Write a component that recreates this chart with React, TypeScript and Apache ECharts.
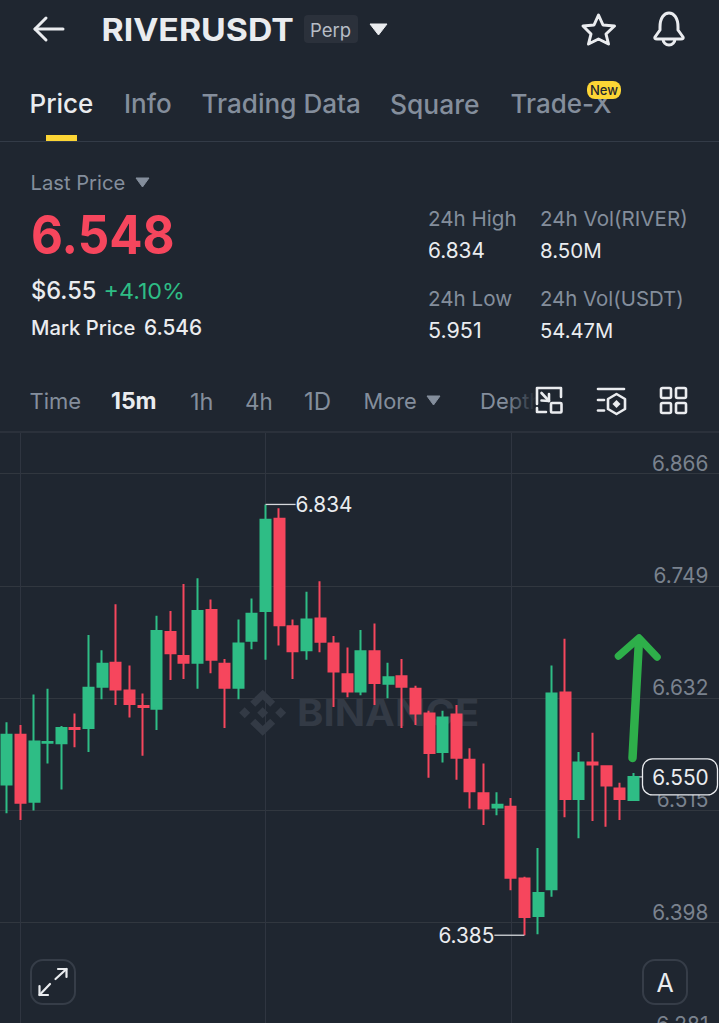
import React, { useEffect, useRef } from "react";
import * as echarts from "echarts";

const opens = [6.542,6.594,6.524,6.5855,6.585,6.601,6.601,6.644,6.669,6.640,6.624,6.621,6.701,6.676,6.669,6.724,6.668,6.643,6.692,6.723,6.819,6.707,6.682,6.715,6.689,6.657,6.639,6.681,6.647,6.655,6.642,6.616,6.576,6.615,6.568,6.533,6.518,6.519,6.444,6.405,6.433,6.638,6.527,6.565,6.561,6.538,6.526];
const closes = [6.594,6.523,6.587,6.5865,6.601,6.600,6.643,6.668,6.641,6.626,6.623,6.702,6.679,6.669,6.723,6.672,6.643,6.689,6.720,6.818,6.708,6.681,6.714,6.691,6.660,6.639,6.681,6.648,6.654,6.644,6.616,6.575,6.612,6.570,6.535,6.517,6.521,6.445,6.404,6.429,6.637,6.527,6.565,6.563,6.541,6.527,6.550];
const lows = [6.512,6.505,6.515,6.564,6.537,6.581,6.576,6.631,6.625,6.612,6.572,6.599,6.651,6.652,6.642,6.658,6.601,6.631,6.683,6.672,6.687,6.652,6.672,6.680,6.623,6.633,6.635,6.625,6.632,6.601,6.604,6.549,6.565,6.547,6.517,6.500,6.510,6.432,6.385,6.386,6.425,6.508,6.486,6.504,6.498,6.505,6.525];
const highs = [6.607,6.604,6.636,6.642,6.603,6.616,6.698,6.682,6.730,6.666,6.637,6.718,6.723,6.751,6.757,6.735,6.673,6.714,6.736,6.834,6.830,6.714,6.743,6.754,6.697,6.685,6.703,6.710,6.669,6.673,6.645,6.619,6.619,6.625,6.580,6.564,6.534,6.528,6.446,6.476,6.666,6.694,6.576,6.596,6.562,6.544,6.554];
const extremeIndex = [19, 38];
const extremeValue = [6.834, 6.385];
const lastPrice = 6.55;
const tabs = ["Price", "Info", "Trading Data", "Square", "Trade-X"];
const intervals = ["Time", "15m", "1h", "4h", "1D", "More"];

const BG = "#1F2630";
const WHITE = "#EAECEF";
const GREY = "#848E9C";
const RED = "#F6465D";
const GREEN = "#2EBD85";
const YELLOW = "#FCD535";
const LINE = "#2F3540";
const FONT = "Inter";

const SPACING = 13.67;
const SLOTS = 53;
const categories = Array.from({ length: SLOTS }, (_, i) => String(i));

const txt = (text: string, x: number, y: number, size: number, fill: string, weight: any = 400, align = "left", z = 50, scaleX = 1) => ({
  type: "text", x, y, z, scaleX, silent: true,
  style: { text, fill, fontFamily: FONT, fontSize: size, fontWeight: weight, textAlign: align, textVerticalAlign: "middle" },
});
const poly = (points: number[][], stroke: string, lineWidth: number, z = 50) => ({
  type: "polyline", z, silent: true, shape: { points },
  style: { stroke, lineWidth, fill: "none", lineCap: "round", lineJoin: "round" },
});
const tri = (points: number[][], fill: string, z = 50) => ({
  type: "polygon", z, silent: true, shape: { points }, style: { fill, lineJoin: "round", stroke: fill, lineWidth: 1 },
});
const box = (x: number, y: number, width: number, height: number, r: number, style: any, z = 50) => ({
  type: "rect", z, silent: true, shape: { x, y, width, height, r }, style,
});

export default function App() {
  const ref = useRef<HTMLDivElement>(null);
  useEffect(() => {
    document.body.style.margin = "0";
    document.body.style.background = BG;
    echarts.graphic.registerShape("bell", echarts.graphic.extendPath(
      "M660 27C660 18 664 13 669 13C674 13 678 18 678 27L678 30L683 37Q684 39 681 39L657 39Q654 39 655 37L660 30ZM663 39A6 6 0 0 0 675 39", {}));
    const chart = echarts.init(ref.current!, null, { renderer: "svg" });
    const wm = "#333A45";
    const cx = 262.7, cy = 712.7;
    const chevron = (s: number) => [[cx, cy - s * 23], [cx + 12.5, cy - s * 11], [cx + 7.5, cy - s * 6], [cx, cy - s * 13.2], [cx - 7.5, cy - s * 6], [cx - 12.5, cy - s * 11]];
    const diamond = (x: number, r: number) => [[x, cy - r], [x + r, cy], [x, cy + r], [x - r, cy]];
    const graphics: any[] = [
      // watermark
      { type: "polygon", z: 1, silent: true, shape: { points: chevron(1) }, style: { fill: wm } },
      { type: "polygon", z: 1, silent: true, shape: { points: chevron(-1) }, style: { fill: wm } },
      { type: "polygon", z: 1, silent: true, shape: { points: diamond(cx, 5.5) }, style: { fill: wm } },
      { type: "polygon", z: 1, silent: true, shape: { points: diamond(cx - 18, 5.5) }, style: { fill: wm } },
      { type: "polygon", z: 1, silent: true, shape: { points: diamond(cx + 18, 5.5) }, style: { fill: wm } },
      txt("BINANCE", 297, 713, 37, wm, 700, "left", 1, 1.08),

      // header
      poly([[35, 29], [63, 29]], WHITE, 3),
      poly([[46, 18], [35, 29], [46, 40]], WHITE, 3),
      txt("RIVERUSDT", 101.5, 30, 31, WHITE, 700, "left", 50, 1.09),
      box(304, 15, 54, 28, 4, { fill: "#2B313B" }),
      txt("Perp", 310, 29.5, 18.5, "#B7BDC6"),
      tri([[370, 24], [387, 24], [378.5, 35]], WHITE),
      { type: "polygon", z: 50, silent: true,
        shape: { points: [[598.5, 15], [603, 25], [614.5, 26], [606, 34], [608.5, 44], [598.5, 39], [588.5, 44], [591, 34], [583, 26], [594, 25]] },
        style: { stroke: WHITE, lineWidth: 3, fill: "none", lineJoin: "round" } },
      { type: "bell", z: 50, silent: true, style: { stroke: WHITE, lineWidth: 3, fill: "none", lineJoin: "round" } },

      // tabs
      txt(tabs[0], 29.5, 103.5, 26, WHITE, 500),
      txt(tabs[1], 124, 103.5, 26, GREY, 500),
      txt(tabs[2], 201.5, 103.5, 26.1, GREY, 500),
      txt(tabs[3], 390, 103.5, 26.4, GREY, 500),
      txt(tabs[4], 510.5, 103.5, 26, GREY, 500),
      box(46, 135, 31, 6, 0, { fill: YELLOW }),
      box(0, 141, 719, 1, 0, { fill: "#333B47" }),
      box(587, 81, 34, 18, 8, { fill: YELLOW }),
      txt("New", 604, 90, 13, "#1F2630", 500, "center", 51),

      // stats
      txt("Last Price", 30.5, 182, 20.2, GREY),
      tri([[136, 178], [149, 178], [142.5, 187]], GREY),
      txt("6.548", 31, 234.5, 53, RED, 700, "left", 50, 0.93),
      txt("$6.55", 31, 290, 23.6, WHITE, 500),
      txt("+4.10%", 103.5, 290.5, 22, GREEN, 400, "left", 50, 1.06),
      txt("Mark Price", 31, 327.5, 20.2, WHITE, 500),
      txt("6.546", 144, 327.5, 20.8, WHITE, 500),
      txt("24h High", 428, 218, 20.6, GREY),
      txt("6.834", 428, 250, 20.8, WHITE),
      txt("24h Low", 428, 298, 20.6, GREY),
      txt("5.951", 428, 330, 21.5, WHITE),
      txt("24h Vol(RIVER)", 540, 218, 20.6, GREY),
      txt("8.50M", 540, 250, 20.5, WHITE),
      txt("24h Vol(USDT)", 540, 298, 20.4, GREY),
      txt("54.47M", 540, 330, 20.2, WHITE),

      // interval bar
      txt(intervals[0], 29.5, 401, 22, GREY),
      txt(intervals[1], 111, 400.5, 23, WHITE, 700),
      txt(intervals[2], 190, 401, 23.5, GREY),
      txt(intervals[3], 245, 401, 22.4, GREY),
      txt(intervals[4], 304, 401, 24, GREY),
      txt(intervals[5], 363.5, 401, 21.8, GREY),
      tri([[427, 396], [440, 396], [433.5, 405]], GREY),
      txt("Depth", 480, 401, 22, GREY),
      box(505, 385, 32, 32, 0, { fill: { type: "linear", x: 0, y: 0, x2: 1, y2: 0, colorStops: [{ offset: 0, color: "rgba(31,38,48,0)" }, { offset: 1, color: BG }] } }, 51),
      box(537, 385, 20, 32, 0, { fill: BG }, 51),
      // icon 1
      poly([[537, 404], [537, 388], [561, 388], [561, 397]], WHITE, 2.6, 52),
      poly([[537, 408], [537, 412], [546, 412]], WHITE, 2.6, 52),
      box(551, 403, 10.5, 9.5, 1, { stroke: WHITE, lineWidth: 2.6, fill: "none" }, 52),
      poly([[541.5, 393], [549, 401]], WHITE, 2.6, 52),
      poly([[541.5, 400.5], [549, 401], [549, 394]], WHITE, 2.6, 52),
      // icon 2
      poly([[598, 389], [624, 389]], WHITE, 2.6, 52),
      poly([[598, 400], [604, 400]], WHITE, 2.6, 52),
      poly([[598, 410.5], [604, 410.5]], WHITE, 2.6, 52),
      { type: "polygon", z: 52, silent: true, shape: { points: [[616.5, 394], [625, 399], [625, 409], [616.5, 414], [608, 409], [608, 399]] }, style: { stroke: WHITE, lineWidth: 2.6, fill: "none", lineJoin: "round" } },
      { type: "polygon", z: 52, silent: true, shape: { points: [[616.5, 400], [620.5, 404], [616.5, 408], [612.5, 404]] }, style: { fill: WHITE } },
      // icon 3
      box(661, 388, 10, 10, 1.5, { stroke: WHITE, lineWidth: 2.6, fill: "none" }, 52),
      box(676, 388, 10, 10, 1.5, { stroke: WHITE, lineWidth: 2.6, fill: "none" }, 52),
      box(661, 403, 10, 10, 1.5, { stroke: WHITE, lineWidth: 2.6, fill: "none" }, 52),
      box(676, 403, 10, 10, 1.5, { stroke: WHITE, lineWidth: 2.6, fill: "none" }, 52),

      // separators
      box(0, 431, 719, 2, 0, { fill: "#2B313B" }, 3),

      // hand-drawn arrow
      poly([[632.5, 758], [639, 640]], "#2EAF4A", 8.5, 60),
      poly([[618.5, 656], [639, 638], [657, 657]], "#2EAF4A", 7.5, 60),

      // bottom buttons
      box(31, 960, 44, 44, 12, { stroke: "#363D48", lineWidth: 2, fill: "none" }, 40),
      box(643, 960, 44, 44, 12, { stroke: "#363D48", lineWidth: 2, fill: BG }, 40),
      poly([[39.5, 995], [50, 984]], WHITE, 2.2, 41),
      poly([[39.5, 986], [39.5, 995], [48, 995]], WHITE, 2.2, 41),
      poly([[55.5, 979], [66.5, 969]], WHITE, 2.2, 41),
      poly([[58, 969], [66.5, 969], [66.5, 977]], WHITE, 2.2, 41),
      txt("A", 665, 983, 25, WHITE, 400, "center", 41),
    ];

    chart.setOption({
      animation: false,
      backgroundColor: BG,
      graphic: { elements: graphics },
      grid: { left: 4.2 - SPACING / 2, top: 432, width: SPACING * SLOTS, height: 603, containLabel: false },
      xAxis: {
        type: "category", data: categories, boundaryGap: true,
        axisLine: { show: false }, axisTick: { show: false }, axisLabel: { show: false },
        splitLine: { show: true, alignWithLabel: true, interval: (i: number) => (i - 1) % 18 === 0, lineStyle: { color: LINE, width: 1 } },
      },
      yAxis: {
        type: "value", position: "right", min: 6.281, max: 6.9095, interval: 0.117, scale: true,
        axisLine: { show: false }, axisTick: { show: false },
        splitLine: { show: true, lineStyle: { color: "#31373F", width: 1 } },
        axisLabel: {
          inside: true, margin: 13.5, color: "#7A828E", fontFamily: FONT, fontSize: 20.8,
          verticalAlign: "bottom", showMaxLabel: false, formatter: (v: number) => v.toFixed(3),
        },
      },
      series: [
        {
          type: "candlestick", barWidth: 10.5, z: 2,
          itemStyle: { color: GREEN, color0: RED, borderColor: GREEN, borderColor0: RED, borderWidth: 2 },
          data: opens.map((o, i) => [o, closes[i], lows[i], highs[i]]),
        },
        {
          type: "custom", z: 10, clip: false, silent: true,
          encode: { x: 0, y: 1 },
          data: extremeIndex.map((idx, i) => [idx, extremeValue[i]]),
          renderItem: (_: any, api: any) => {
            const [x, y] = api.coord([api.value(0), api.value(1)]);
            const up = api.value(1) > lastPrice;
            const end = up ? x + 30 : x - 30;
            return {
              type: "group",
              children: [
                { type: "line", shape: { x1: x, y1: y, x2: end, y2: y }, style: { stroke: "#D5D8DC", lineWidth: 1.3 } },
                { type: "text", style: { x: end, y, text: api.value(1).toFixed(3), fill: WHITE, fontFamily: FONT, fontSize: 20.8, textAlign: up ? "left" : "right", textVerticalAlign: "middle" } },
              ],
            };
          },
        },
        {
          type: "custom", z: 12, clip: false, silent: true,
          encode: { x: 0, y: 1 },
          data: [[opens.length - 1, lastPrice]],
          renderItem: (_: any, api: any) => {
            const [x, y] = api.coord([api.value(0), api.value(1)]);
            return {
              type: "group",
              children: [
                { type: "line", shape: { x1: x + 6, y1: y, x2: x + 9, y2: y }, style: { stroke: WHITE, lineWidth: 1 } },
                { type: "rect", shape: { x: 642.5, y: y - 18, width: 75, height: 36, r: 10 }, style: { fill: BG, stroke: WHITE, lineWidth: 1.3 } },
                { type: "text", style: { x: 680.5, y: y + 0.5, text: api.value(1).toFixed(3), fill: WHITE, fontFamily: FONT, fontSize: 20.8, textAlign: "center", textVerticalAlign: "middle" } },
              ],
            };
          },
        },
      ],
    });
    return () => chart.dispose();
  }, []);
  return (
    <div style={{ width: 719, height: 1023, overflow: "hidden" }}>
      <div ref={ref} style={{ width: 730, height: 1040 }} />
    </div>
  );
}
